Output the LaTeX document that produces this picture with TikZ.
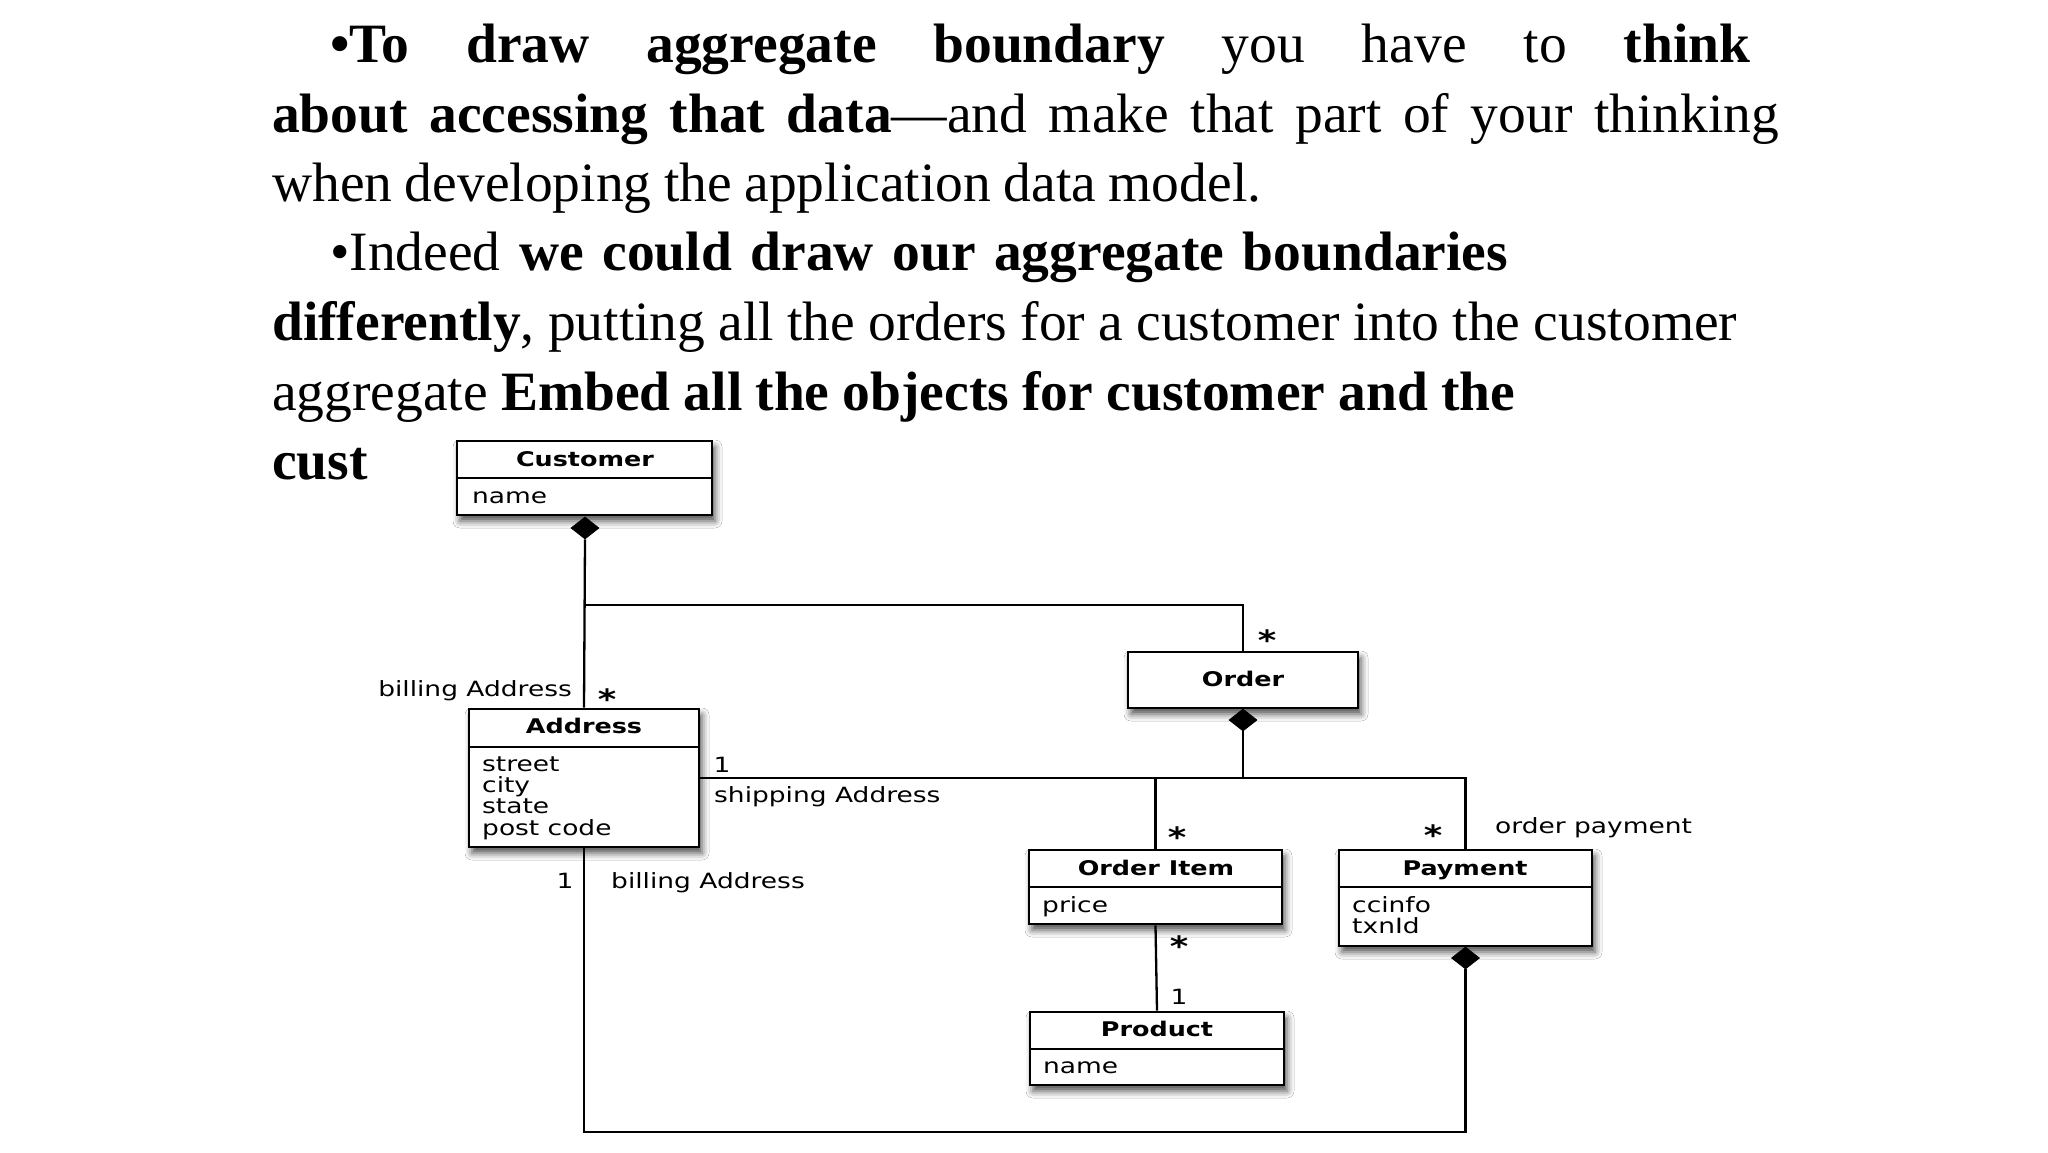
\documentclass[tikz,border=0pt]{standalone}
\usepackage{fontspec}
\setmainfont{Liberation Serif}
\newfontfamily\diag[FakeStretch=1.26]{DejaVu Sans}
\usetikzlibrary{shapes.geometric,shadows.blur}
\begin{document}
\begin{tikzpicture}[x=1pt,y=-1pt,
  txt/.style={inner sep=0pt, anchor=base west, font=\fontsize{55.5}{70}\selectfont},
  cls/.style={draw, line width=2.6pt, fill=white, inner sep=0pt,
    blur shadow={shadow xshift=3pt, shadow yshift=-6pt, shadow blur radius=7pt, shadow opacity=70}},
  ttl/.style={inner sep=0pt, anchor=base, font=\diag\bfseries\fontsize{20.2}{24}\selectfont},
  att/.style={inner sep=0pt, anchor=base west, font=\diag\fontsize{21}{24}\selectfont},
  lbl/.style={inner sep=0pt, font=\diag\fontsize{21}{24}\selectfont},
  star/.style={inner sep=0pt, anchor=base, font=\diag\bfseries\fontsize{28}{30}\selectfont},
  dia/.style={diamond, fill=black, draw=black, line width=0.8pt, inner sep=0pt, minimum width=28pt, minimum height=22pt},
  conn/.style={line width=2.3pt},
  divl/.style={line width=2.6pt},
]
\useasboundingbox (0,0) rectangle (2048,1152);
\fill[white] (0,0) rectangle (2048,1152);

% text
\node[txt] (l1) at (330,62.7) {\makebox[1420pt][s]{\textbf{•To draw aggregate boundary} you have to \textbf{think}}};
\node[txt] (l2) at (272,132) {\makebox[1507pt][s]{\textbf{about accessing that data}—and make that part of your thinking}};
\node[txt] (l3) at (272,201) {\makebox[989pt][s]{when developing the application data model.}};
\node[txt] (l4) at (330,270) {\makebox[1178pt][s]{•Indeed \textbf{we could draw our aggregate boundaries}}};
\node[txt] (l5) at (272,340) {\makebox[1465pt][s]{\textbf{differently}, putting all the orders for a customer into the customer}};
\node[txt] (l6) at (272,410) {\makebox[1243pt][s]{aggregate \textbf{Embed all the objects for customer and the}}};
\node[txt] (l7) at (272,479) {\textbf{cust}};

% class boxes
\node[cls, minimum width=255pt, minimum height=74pt] (customer) at (584.5,478) {};
\node[cls, minimum width=230pt, minimum height=138pt] (address) at (584,778) {};
\node[cls, minimum width=230pt, minimum height=56pt] (order) at (1243,680) {};
\node[cls, minimum width=253pt, minimum height=74pt] (orderitem) at (1155.5,887) {};
\node[cls, minimum width=253pt, minimum height=96pt] (payment) at (1465.5,898) {};
\node[cls, minimum width=254pt, minimum height=73pt] (product) at (1157,1048.5) {};

% dividers
\draw[divl] (customer.west |- 0,478) -- (customer.east |- 0,478);
\draw[divl] (address.west |- 0,747) -- (address.east |- 0,747);
\draw[divl] (orderitem.west |- 0,887) -- (orderitem.east |- 0,887);
\draw[divl] (payment.west |- 0,887) -- (payment.east |- 0,887);
\draw[divl] (product.west |- 0,1049) -- (product.east |- 0,1049);

% class texts
\node[ttl] (tcust) at (585,466) {Customer};
\node[att] (acust) at (472,503) {name};
\node[ttl] (taddr) at (584,733) {Address};
\node[att] (a1) at (482,771) {street};
\node[att] (a2) at (482,792) {city};
\node[att] (a3) at (482,813) {state};
\node[att] (a4) at (482,835) {post code};
\node[ttl] (tord) at (1243,686) {Order};
\node[ttl] (toi) at (1156,875) {Order Item};
\node[att] (aoi) at (1042,912) {price};
\node[ttl] (tpay) at (1465,875) {Payment};
\node[att] (ap1) at (1352,912) {ccinfo};
\node[att] (ap2) at (1352,933) {txnId};
\node[ttl] (tprod) at (1157,1036) {Product};
\node[att] (aprod) at (1043,1073) {name};

% diamonds
\node[dia] (cdia) at (585,528) {};
\node[dia] (odia) at (1243,720) {};
\node[dia] (pdia) at (1465.5,958) {};

% connectors
\coordinate (br1) at (585,605);
\coordinate (bl) at (584,1132);
\draw[conn] (cdia.south) -- (address.north);
\draw[conn] (br1) -| (order.north);
\draw[conn] (address.east) -| (payment.north);
\draw[conn] (odia.south) -- (odia.south |- address.east);
\draw[conn] (orderitem.north) -- (orderitem.north |- address.east);
\draw[conn] (orderitem.south) -- (product.north);
\draw[conn] (pdia.south) |- (bl) -- (address.south);

% labels
\node[lbl, anchor=base east] (lb1) at (572,696) {billing Address};
\node[star] (s1) at (607,709) {*};
\node[star] (s2) at (1267,650) {*};
\node[lbl, anchor=base] (m1) at (722,772) {1};
\node[lbl, anchor=base west] (lb2) at (714,802) {shipping Address};
\node[star] (s3) at (1177,847) {*};
\node[star] (s4) at (1433,845) {*};
\node[lbl, anchor=base west] (lb3) at (1495,833) {order payment};
\node[lbl, anchor=base] (m2) at (565,888) {1};
\node[lbl, anchor=base west] (lb4) at (611,888) {billing Address};
\node[star] (s5) at (1179,956) {*};
\node[lbl, anchor=base] (m3) at (1179,1004) {1};
\end{tikzpicture}
\end{document}
